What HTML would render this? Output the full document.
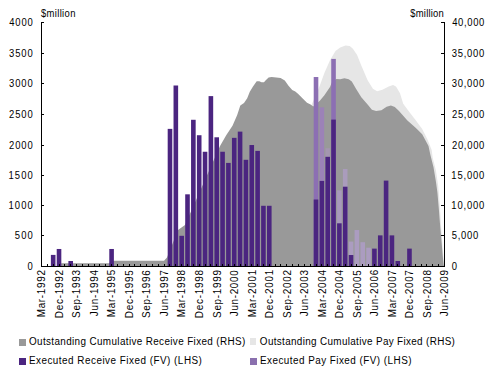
<!DOCTYPE html><html><head><meta charset="utf-8"><style>html,body{margin:0;padding:0;background:#fff;}svg{display:block}text{font-family:"Liberation Sans",sans-serif;fill:#000}</style></head><body>
<svg width="494" height="379" viewBox="0 0 494 379">
<rect width="494" height="379" fill="#fff"/>
<polygon points="310.0,108.0 313.4,100.8 318.9,87.9 324.4,73.1 330.0,60.3 335.5,51.0 340.2,47.6 345.5,45.5 349.7,46.1 352.9,48.7 357.1,55.0 361.3,65.5 367.6,80.3 372.9,88.7 377.1,91.3 382.4,89.8 388.7,86.6 393.0,85.0 396.0,86.6 400.0,93.2 403.2,103.8 409.5,112.2 415.9,120.6 422.2,129.1 427.5,139.6 431.7,150.0 432.7,157.7 435.9,170.3 438.2,186.1 439.8,205.0 441.0,225.0 442.5,245.0 443.5,258.0 444.5,266.0 310.0,266.0" fill="#e6e6e6"/>
<polygon points="59.0,266.0 61.5,263.3 109.0,263.2 112.0,260.8 164.0,260.8 167.0,257.5 178.0,230.0 185.0,225.0 219.9,146.3 226.2,135.3 232.5,125.8 237.2,115.1 240.3,105.6 244.0,102.9 247.2,98.2 249.8,91.8 253.0,86.6 256.7,81.3 259.3,81.3 261.5,82.3 264.0,82.3 265.5,80.6 268.6,77.5 271.6,76.9 276.3,77.4 280.6,77.9 284.8,80.6 288.5,85.8 292.2,90.0 295.3,91.6 298.5,94.3 302.7,98.5 307.0,102.7 310.6,104.5 313.2,106.5 319.8,100.8 324.4,95.2 330.0,87.0 331.8,82.4 336.4,79.0 340.2,79.2 344.4,78.2 348.7,79.2 351.8,81.4 356.0,88.7 361.3,97.2 367.6,104.6 371.9,109.8 376.1,110.9 381.4,110.3 386.6,106.7 390.9,105.5 394.8,106.9 399.0,111.1 407.4,120.6 415.9,128.0 422.2,134.3 428.5,146.0 430.3,154.5 433.5,167.2 435.9,181.4 437.4,192.5 438.5,205.0 439.0,211.0 440.3,227.7 441.8,244.4 442.7,255.5 443.6,264.7 444.0,266.0" fill="#999999"/>
<rect x="313.71" y="77.02" width="4.6" height="188.98" fill="#8c6fb3"/>
<rect x="319.55" y="107.40" width="4.6" height="158.60" fill="#9c82b8"/>
<rect x="325.39" y="148.27" width="4.6" height="117.73" fill="#a496b0"/>
<rect x="331.23" y="58.91" width="4.6" height="207.09" fill="#8c6fb3"/>
<rect x="337.07" y="190.36" width="4.6" height="75.64" fill="#a898bc"/>
<rect x="342.91" y="169.01" width="4.6" height="96.99" fill="#aa9cbc"/>
<rect x="348.75" y="241.60" width="4.6" height="24.40" fill="#ab9cc0"/>
<rect x="354.59" y="230.01" width="4.6" height="35.99" fill="#ab9cc0"/>
<rect x="360.43" y="242.21" width="4.6" height="23.79" fill="#ab9cc0"/>
<rect x="366.27" y="247.70" width="4.6" height="18.30" fill="#ab9cc0"/>
<rect x="50.88" y="254.90" width="4.6" height="11.10" fill="#4b2580"/>
<rect x="56.72" y="248.98" width="4.6" height="17.02" fill="#4b2580"/>
<rect x="68.40" y="261.00" width="4.6" height="5.00" fill="#4b2580"/>
<rect x="109.29" y="248.98" width="4.6" height="17.02" fill="#4b2580"/>
<rect x="167.69" y="128.87" width="4.6" height="137.13" fill="#4b2580"/>
<rect x="173.53" y="85.50" width="4.6" height="180.50" fill="#4b2580"/>
<rect x="179.37" y="235.81" width="4.6" height="30.19" fill="#4b2580"/>
<rect x="185.21" y="194.32" width="4.6" height="71.68" fill="#4b2580"/>
<rect x="191.06" y="119.78" width="4.6" height="146.22" fill="#4b2580"/>
<rect x="196.90" y="135.22" width="4.6" height="130.78" fill="#4b2580"/>
<rect x="202.74" y="151.75" width="4.6" height="114.25" fill="#4b2580"/>
<rect x="208.58" y="96.11" width="4.6" height="169.89" fill="#4b2580"/>
<rect x="214.42" y="137.29" width="4.6" height="128.71" fill="#4b2580"/>
<rect x="220.26" y="151.75" width="4.6" height="114.25" fill="#4b2580"/>
<rect x="226.10" y="162.91" width="4.6" height="103.09" fill="#4b2580"/>
<rect x="231.94" y="137.84" width="4.6" height="128.16" fill="#4b2580"/>
<rect x="237.78" y="131.62" width="4.6" height="134.38" fill="#4b2580"/>
<rect x="243.62" y="159.80" width="4.6" height="106.20" fill="#4b2580"/>
<rect x="249.46" y="145.04" width="4.6" height="120.96" fill="#4b2580"/>
<rect x="255.30" y="150.89" width="4.6" height="115.11" fill="#4b2580"/>
<rect x="261.14" y="205.79" width="4.6" height="60.21" fill="#4b2580"/>
<rect x="266.98" y="205.79" width="4.6" height="60.21" fill="#4b2580"/>
<rect x="313.71" y="199.51" width="4.6" height="66.49" fill="#4b2580"/>
<rect x="319.55" y="180.91" width="4.6" height="85.09" fill="#4b2580"/>
<rect x="325.39" y="156.81" width="4.6" height="109.19" fill="#4b2580"/>
<rect x="331.23" y="119.60" width="4.6" height="146.40" fill="#4b2580"/>
<rect x="337.07" y="223.30" width="4.6" height="42.70" fill="#4b2580"/>
<rect x="342.91" y="186.70" width="4.6" height="79.30" fill="#4b2580"/>
<rect x="348.75" y="255.02" width="4.6" height="10.98" fill="#4b2580"/>
<rect x="372.11" y="248.62" width="4.6" height="17.38" fill="#4b2580"/>
<rect x="377.95" y="235.38" width="4.6" height="30.62" fill="#4b2580"/>
<rect x="383.79" y="180.60" width="4.6" height="85.40" fill="#4b2580"/>
<rect x="389.63" y="235.38" width="4.6" height="30.62" fill="#4b2580"/>
<rect x="395.48" y="261.00" width="4.6" height="5.00" fill="#4b2580"/>
<rect x="407.16" y="248.62" width="4.6" height="17.38" fill="#4b2580"/>
<path d="M47.5 264V266M53.5 264V266M59.5 264V266M64.5 264V266M70.5 264V266M76.5 264V266M82.5 264V266M88.5 264V266M94.5 264V266M99.5 264V266M105.5 264V266M111.5 264V266M117.5 264V266M123.5 264V266M129.5 264V266M134.5 264V266M140.5 264V266M146.5 264V266M152.5 264V266M158.5 264V266M164.5 264V266M169.5 264V266M175.5 264V266M181.5 264V266M187.5 264V266M193.5 264V266M199.5 264V266M205.5 264V266M210.5 264V266M216.5 264V266M222.5 264V266M228.5 264V266M234.5 264V266M240.5 264V266M245.5 264V266M251.5 264V266M257.5 264V266M263.5 264V266M269.5 264V266M275.5 264V266M280.5 264V266M286.5 264V266M292.5 264V266M298.5 264V266M304.5 264V266M310.5 264V266M316.5 264V266M321.5 264V266M327.5 264V266M333.5 264V266M339.5 264V266M345.5 264V266M351.5 264V266M356.5 264V266M362.5 264V266M368.5 264V266M374.5 264V266M380.5 264V266M386.5 264V266M391.5 264V266M397.5 264V266M403.5 264V266M409.5 264V266M415.5 264V266M421.5 264V266M426.5 264V266M432.5 264V266M438.5 264V266" stroke="#000" stroke-width="1" fill="none"/>
<path d="M41.5 22V266.5M444.5 22V266.5M41 266.5H445" stroke="#000" stroke-width="1" fill="none"/>
<path d="M42 266.5H44M441 266.5H444M42 235.5H44M441 235.5H444M42 205.5H44M441 205.5H444M42 175.5H44M441 175.5H444M42 145.5H44M441 145.5H444M42 114.5H44M441 114.5H444M42 83.5H44M441 83.5H444M42 53.5H44M441 53.5H444M42 22.5H44M441 22.5H444" stroke="#000" stroke-width="1" fill="none"/>
<text transform="translate(32.79,270.00) scale(0.9,1)" font-size="10.5" text-anchor="end" textLength="12.90" lengthAdjust="spacing">0</text>
<text transform="translate(451.75,270.00) scale(0.9,1)" font-size="10.5" textLength="6.86" lengthAdjust="spacing">0</text>
<text transform="translate(32.79,239.00) scale(0.9,1)" font-size="10.5" text-anchor="end" textLength="19.95" lengthAdjust="spacing">500</text>
<text transform="translate(451.69,239.00) scale(0.9,1)" font-size="10.5" textLength="29.62" lengthAdjust="spacing">5,000</text>
<text transform="translate(32.79,209.00) scale(0.9,1)" font-size="10.5" text-anchor="end" textLength="27.03" lengthAdjust="spacing">1000</text>
<text transform="translate(451.34,209.00) scale(0.9,1)" font-size="10.5" textLength="36.66" lengthAdjust="spacing">10,000</text>
<text transform="translate(32.79,179.00) scale(0.9,1)" font-size="10.5" text-anchor="end" textLength="27.03" lengthAdjust="spacing">1500</text>
<text transform="translate(451.34,179.00) scale(0.9,1)" font-size="10.5" textLength="36.66" lengthAdjust="spacing">15,000</text>
<text transform="translate(32.79,149.00) scale(0.9,1)" font-size="10.5" text-anchor="end" textLength="26.48" lengthAdjust="spacing">2000</text>
<text transform="translate(451.94,149.00) scale(0.9,1)" font-size="10.5" textLength="36.00" lengthAdjust="spacing">20,000</text>
<text transform="translate(32.79,118.00) scale(0.9,1)" font-size="10.5" text-anchor="end" textLength="26.48" lengthAdjust="spacing">2500</text>
<text transform="translate(451.94,118.00) scale(0.9,1)" font-size="10.5" textLength="36.00" lengthAdjust="spacing">25,000</text>
<text transform="translate(32.79,87.00) scale(0.9,1)" font-size="10.5" text-anchor="end" textLength="26.53" lengthAdjust="spacing">3000</text>
<text transform="translate(451.71,87.00) scale(0.9,1)" font-size="10.5" textLength="36.25" lengthAdjust="spacing">30,000</text>
<text transform="translate(32.79,57.00) scale(0.9,1)" font-size="10.5" text-anchor="end" textLength="26.53" lengthAdjust="spacing">3500</text>
<text transform="translate(451.71,57.00) scale(0.9,1)" font-size="10.5" textLength="36.25" lengthAdjust="spacing">35,000</text>
<text transform="translate(32.79,26.00) scale(0.9,1)" font-size="10.5" text-anchor="end" textLength="26.15" lengthAdjust="spacing">4000</text>
<text transform="translate(452.20,26.00) scale(0.9,1)" font-size="10.5" textLength="35.71" lengthAdjust="spacing">40,000</text>
<text transform="translate(40.94,16.50) scale(0.9,1)" font-size="10.5" textLength="38.30" lengthAdjust="spacing">$million</text>
<text transform="translate(443.81,16.50) scale(0.9,1)" font-size="10.5" text-anchor="end" textLength="37.22" lengthAdjust="spacing">$million</text>
<text transform="translate(45.30,270.04) rotate(-90) scale(0.9,1)" font-size="11" text-anchor="end" textLength="52.51" lengthAdjust="spacing">Mar-1992</text>
<text transform="translate(62.82,269.99) rotate(-90) scale(0.9,1)" font-size="11" text-anchor="end" textLength="53.50" lengthAdjust="spacing">Dec-1992</text>
<text transform="translate(80.34,269.97) rotate(-90) scale(0.9,1)" font-size="11" text-anchor="end" textLength="53.30" lengthAdjust="spacing">Sep-1993</text>
<text transform="translate(97.87,269.97) rotate(-90) scale(0.9,1)" font-size="11" text-anchor="end" textLength="51.35" lengthAdjust="spacing">Jun-1994</text>
<text transform="translate(115.39,269.84) rotate(-90) scale(0.9,1)" font-size="11" text-anchor="end" textLength="52.72" lengthAdjust="spacing">Mar-1995</text>
<text transform="translate(132.91,270.35) rotate(-90) scale(0.9,1)" font-size="11" text-anchor="end" textLength="53.10" lengthAdjust="spacing">Dec-1995</text>
<text transform="translate(150.43,270.35) rotate(-90) scale(0.9,1)" font-size="11" text-anchor="end" textLength="52.87" lengthAdjust="spacing">Sep-1996</text>
<text transform="translate(167.95,270.12) rotate(-90) scale(0.9,1)" font-size="11" text-anchor="end" textLength="51.18" lengthAdjust="spacing">Jun-1997</text>
<text transform="translate(185.47,270.04) rotate(-90) scale(0.9,1)" font-size="11" text-anchor="end" textLength="52.51" lengthAdjust="spacing">Mar-1998</text>
<text transform="translate(203.00,270.03) rotate(-90) scale(0.9,1)" font-size="11" text-anchor="end" textLength="53.46" lengthAdjust="spacing">Dec-1998</text>
<text transform="translate(220.52,269.97) rotate(-90) scale(0.9,1)" font-size="11" text-anchor="end" textLength="53.30" lengthAdjust="spacing">Sep-1999</text>
<text transform="translate(238.04,270.34) rotate(-90) scale(0.9,1)" font-size="11" text-anchor="end" textLength="50.93" lengthAdjust="spacing">Jun-2000</text>
<text transform="translate(255.56,269.69) rotate(-90) scale(0.9,1)" font-size="11" text-anchor="end" textLength="52.89" lengthAdjust="spacing">Mar-2001</text>
<text transform="translate(273.08,269.67) rotate(-90) scale(0.9,1)" font-size="11" text-anchor="end" textLength="53.86" lengthAdjust="spacing">Dec-2001</text>
<text transform="translate(290.60,269.99) rotate(-90) scale(0.9,1)" font-size="11" text-anchor="end" textLength="53.27" lengthAdjust="spacing">Sep-2002</text>
<text transform="translate(308.13,269.95) rotate(-90) scale(0.9,1)" font-size="11" text-anchor="end" textLength="51.37" lengthAdjust="spacing">Jun-2003</text>
<text transform="translate(325.65,269.97) rotate(-90) scale(0.9,1)" font-size="11" text-anchor="end" textLength="52.58" lengthAdjust="spacing">Mar-2004</text>
<text transform="translate(343.17,270.07) rotate(-90) scale(0.9,1)" font-size="11" text-anchor="end" textLength="53.41" lengthAdjust="spacing">Dec-2004</text>
<text transform="translate(360.69,270.35) rotate(-90) scale(0.9,1)" font-size="11" text-anchor="end" textLength="52.87" lengthAdjust="spacing">Sep-2005</text>
<text transform="translate(378.21,269.83) rotate(-90) scale(0.9,1)" font-size="11" text-anchor="end" textLength="51.50" lengthAdjust="spacing">Jun-2006</text>
<text transform="translate(395.73,270.12) rotate(-90) scale(0.9,1)" font-size="11" text-anchor="end" textLength="52.41" lengthAdjust="spacing">Mar-2007</text>
<text transform="translate(413.26,270.13) rotate(-90) scale(0.9,1)" font-size="11" text-anchor="end" textLength="53.34" lengthAdjust="spacing">Dec-2007</text>
<text transform="translate(430.78,270.03) rotate(-90) scale(0.9,1)" font-size="11" text-anchor="end" textLength="53.23" lengthAdjust="spacing">Sep-2008</text>
<text transform="translate(448.30,269.97) rotate(-90) scale(0.9,1)" font-size="11" text-anchor="end" textLength="51.35" lengthAdjust="spacing">Jun-2009</text>
<text transform="translate(28.97,344.80) scale(0.9,1)" font-size="11" textLength="240.31" lengthAdjust="spacing">Outstanding Cumulative Receive Fixed (RHS)</text>
<text transform="translate(259.86,344.80) scale(0.9,1)" font-size="11" textLength="216.68" lengthAdjust="spacing">Outstanding Cumulative Pay Fixed (RHS)</text>
<text transform="translate(28.90,363.90) scale(0.9,1)" font-size="11" textLength="192.24" lengthAdjust="spacing">Executed Receive Fixed (FV) (LHS)</text>
<text transform="translate(259.98,363.90) scale(0.9,1)" font-size="11" textLength="168.36" lengthAdjust="spacing">Executed Pay Fixed (FV) (LHS)</text>
<rect x="19" y="339" width="7" height="7" fill="#999999"/>
<rect x="250" y="338" width="6" height="7" fill="#e6e6e6"/>
<rect x="19" y="358" width="7" height="7" fill="#4b2580"/>
<rect x="250" y="358" width="7" height="7" fill="#8a70ae"/>
</svg></body></html>
